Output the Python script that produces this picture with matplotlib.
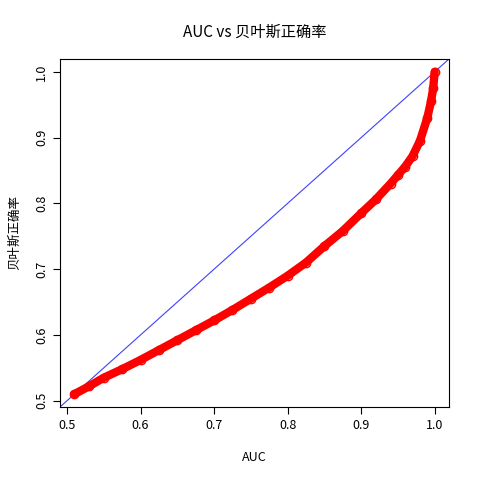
import matplotlib.pyplot as plt
import numpy as np

plt.rcParams['font.family'] = ['Noto Sans CJK SC', 'DejaVu Sans']

# values
auc = [0.51, 0.53, 0.55, 0.575, 0.60, 0.625, 0.65, 0.675, 0.70, 0.725, 0.75,
       0.775, 0.80, 0.825, 0.85, 0.875, 0.90, 0.92, 0.94, 0.95, 0.96, 0.97,
       0.98, 0.99, 0.995, 0.998, 1.0]
acc = [0.51, 0.522, 0.535, 0.548, 0.562, 0.577, 0.592, 0.607, 0.622, 0.638,
       0.655, 0.672, 0.690, 0.710, 0.735, 0.758, 0.785, 0.806, 0.830, 0.843,
       0.856, 0.872, 0.895, 0.930, 0.955, 0.975, 1.0]

fig = plt.figure(figsize=(4.8, 4.8), dpi=100)
ax = fig.add_axes([60/480, 73/480, 389/480, 348/480])

ax.plot([0, 2], [0, 2], color='#4040ff', lw=0.8)
ax.plot(auc, acc, color='red', lw=6, solid_capstyle='round')
ax.plot(auc, acc, 'o', mfc='none', mec='red', ms=6, mew=1)

ax.set_xlim(0.4905, 1.0195)
ax.set_ylim(0.4905, 1.0195)
ticks = [0.5, 0.6, 0.7, 0.8, 0.9, 1.0]
ax.set_xticks(ticks, ['0.5', '0.6', '0.7', '0.8', '0.9', '1.0'])
ax.set_yticks(ticks, ['0.5', '0.6', '0.7', '0.8', '0.9', '1.0'], rotation=90, va='center')
ax.tick_params(direction='out', length=5, labelsize=9)
ax.set_xlabel('AUC', fontsize=9, labelpad=14)
ax.set_ylabel('贝叶斯正确率', fontsize=9, labelpad=10)
ax.set_title('AUC vs 贝叶斯正确率', fontsize=11, pad=16)

fig.savefig('out.png', dpi=100)
